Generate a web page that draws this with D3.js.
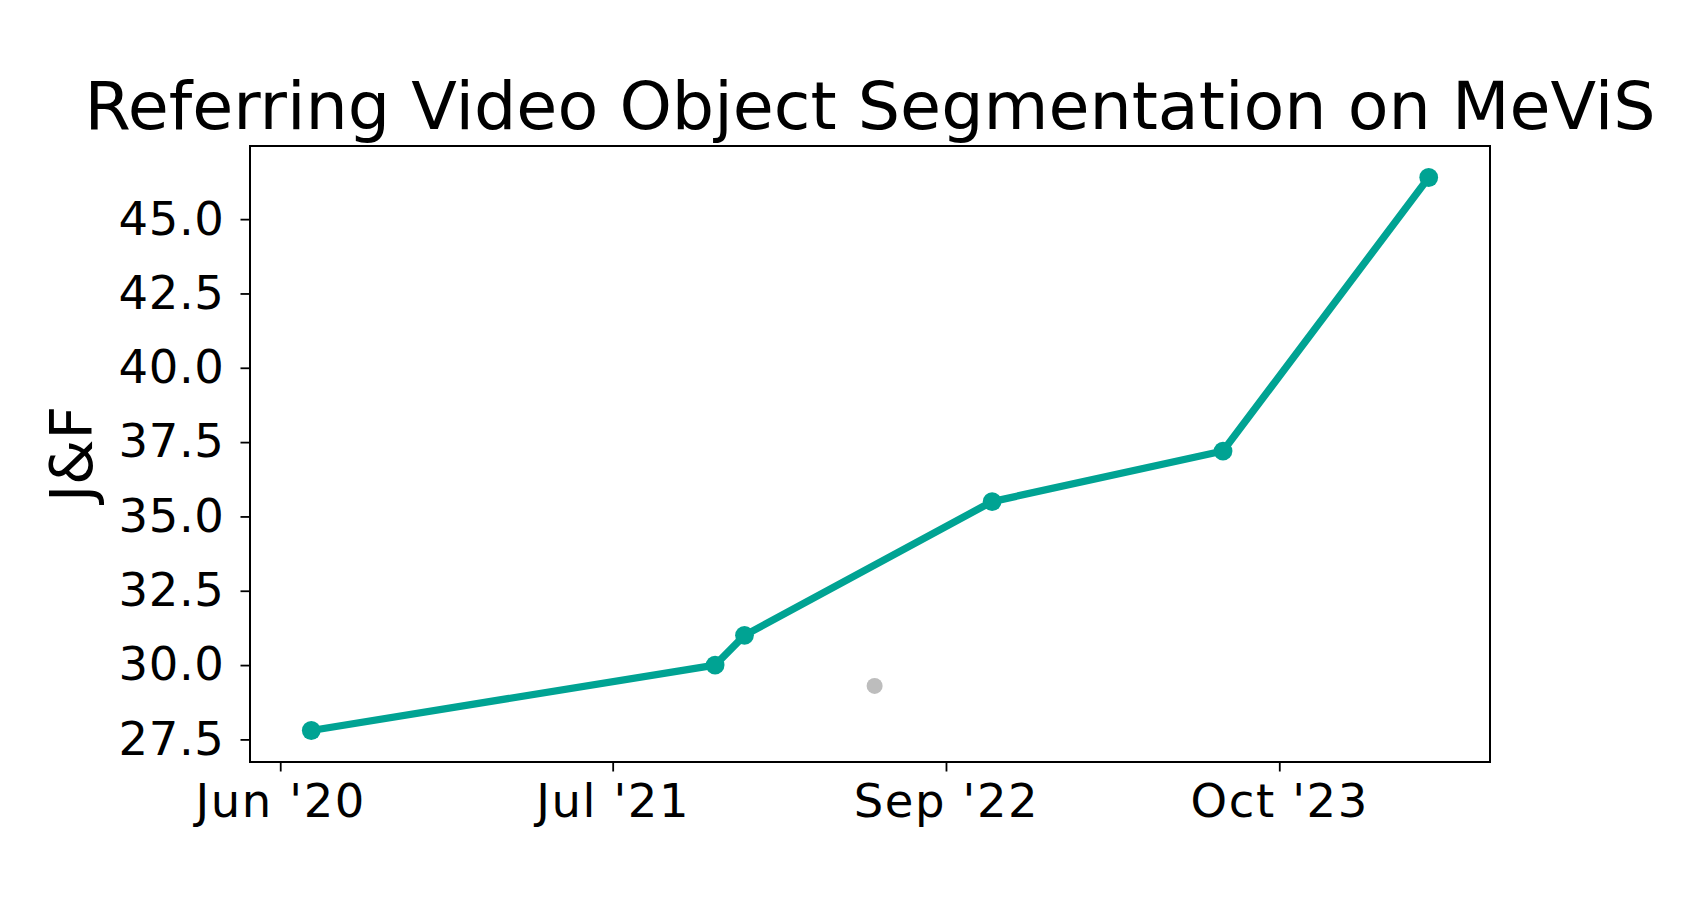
<!DOCTYPE html>
<html>
<head>
<meta charset="utf-8">
<script src="https://cdn.jsdelivr.net/npm/d3@7"></script>
<style>
  body { margin: 0; background: #fff; }
  svg { display: block; font-family: "DejaVu Sans", sans-serif; }
</style>
</head>
<body>
<svg id="chart" width="1700" height="900"></svg>
<script>
'use strict';

// results on the main line (state of the art)
const sotaDates = ["2020-08-06", "2021-11-30", "2022-01-04", "2022-10-26", "2023-07-28", "2024-03-29"];
const sotaScores = [27.8, 30.0, 31.0, 35.5, 37.2, 46.4];

// other results (grey dots)
const otherDates = ["2022-06-08"];
const otherScores = [29.3];

const xTickDates = ["2020-06-30", "2021-07-31", "2022-09-01", "2023-10-03"];
const yTickValues = [27.5, 30.0, 32.5, 35.0, 37.5, 40.0, 42.5, 45.0];

const title = "Referring Video Object Segmentation on MeViS";
const yLabel = "J&F";

(function () {
	const parse = d3.timeParse("%Y-%m-%d");
	const margin = {left: 250, right: 210, top: 146, bottom: 138};
	const W = 1700, H = 900;
	const teal = "#00a393";

	const svg = d3.select("#chart");
	svg.append("rect").attr("width", W).attr("height", H).attr("fill", "#fff");

	const x = d3.scaleTime()
		.domain([parse("2020-05-25"), parse("2024-06-10")])
		.range([margin.left, W - margin.right]);
	const y = d3.scaleLinear()
		.domain([26.74, 47.46])
		.range([H - margin.bottom, margin.top]);

	const sota = sotaDates.map((d, i) => ({date: parse(d), value: sotaScores[i]}));
	const others = otherDates.map((d, i) => ({date: parse(d), value: otherScores[i]}));

	// axes
	const xAxis = d3.axisBottom(x)
		.tickValues(xTickDates.map(parse))
		.tickFormat(d3.timeFormat("%b '%y"))
		.tickSize(9.5)
		.tickPadding(12.5);
	const gx = svg.append("g")
		.attr("transform", `translate(0, ${H - margin.bottom})`)
		.call(xAxis);

	const yAxis = d3.axisLeft(y)
		.tickValues(yTickValues)
		.tickFormat(d3.format(".1f"))
		.tickSize(9.5)
		.tickPadding(16);
	const gy = svg.append("g")
		.attr("transform", `translate(${margin.left}, 0)`)
		.call(yAxis);

	[gx, gy].forEach(g => {
		g.select(".domain").remove();
		g.selectAll(".tick line").attr("stroke", "#000").attr("stroke-width", 1.8);
		g.selectAll(".tick text")
			.attr("fill", "#000")
			.style("font-family", "'DejaVu Sans', sans-serif")
			.style("font-size", "46.5px");
	});
	gx.selectAll(".tick text").style("letter-spacing", "1.6px");
	gy.selectAll(".tick text").style("letter-spacing", "0.6px");

	// grey dots
	svg.append("g").selectAll("circle")
		.data(others)
		.enter()
		.append("circle")
		.attr("cx", d => x(d.date))
		.attr("cy", d => y(d.value))
		.attr("r", 8)
		.attr("fill", "#bdbdbd");

	// main line
	const line = d3.line()
		.x(d => x(d.date))
		.y(d => y(d.value));

	svg.append("path")
		.datum(sota)
		.attr("d", line)
		.attr("fill", "none")
		.attr("stroke", teal)
		.attr("stroke-width", 7.3)
		.attr("stroke-linejoin", "round")
		.attr("stroke-linecap", "butt");

	svg.append("g").selectAll("circle")
		.data(sota)
		.enter()
		.append("circle")
		.attr("cx", d => x(d.date))
		.attr("cy", d => y(d.value))
		.attr("r", 9.4)
		.attr("fill", teal);

	// frame
	svg.append("rect")
		.attr("x", margin.left)
		.attr("y", margin.top)
		.attr("width", W - margin.left - margin.right)
		.attr("height", H - margin.top - margin.bottom)
		.attr("fill", "none")
		.attr("stroke", "#000")
		.attr("stroke-width", 2);

	// title & y label
	svg.append("text")
		.attr("x", (margin.left + W - margin.right) / 2)
		.attr("y", 129)
		.attr("text-anchor", "middle")
		.style("font-size", "66.7px")
		.text(title);

	svg.append("text")
		.attr("transform", `translate(91.7, ${(margin.top + H - margin.bottom) / 2}) rotate(-90)`)
		.attr("text-anchor", "middle")
		.style("font-size", "58.3px")
		.text(yLabel);
})();
</script>
</body>
</html>
